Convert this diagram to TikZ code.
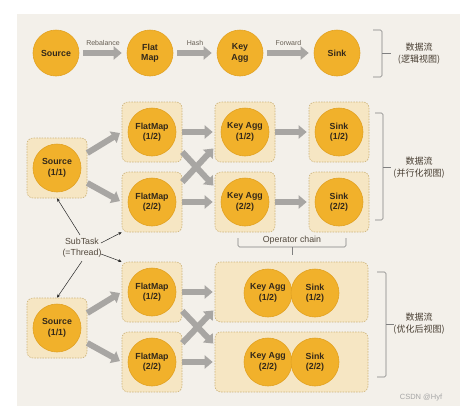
\documentclass[tikz,border=0pt]{standalone}
\usepackage{fontspec}
\setmainfont{Liberation Sans}
\newfontfamily\cjk{Noto Sans CJK SC}
\usetikzlibrary{arrows.meta}
\definecolor{bg}{HTML}{F3F0EA}
\definecolor{boxfill}{HTML}{F6E6C3}
\definecolor{boxline}{HTML}{CDB47A}
\definecolor{gold}{HTML}{F1B12B}
\definecolor{goldline}{HTML}{E2A222}
\definecolor{agray}{HTML}{A8A6A3}
\definecolor{txt}{HTML}{33281A}
\tikzset{
  op/.style={circle, fill=gold, draw=goldline, line width=0.6pt, minimum size=48pt, inner sep=0pt, align=center, font=\fontsize{8.8}{10.5}\selectfont\bfseries, text=txt},
  optop/.style={op, minimum size=46pt},
  slot/.style={draw=boxline, dash pattern=on 1.5pt off 1.2pt, line width=0.6pt, fill=boxfill, rounded corners=6pt, minimum width=60pt, minimum height=60pt, inner sep=0pt},
  wideslot/.style={slot, minimum width=153pt},
  flow/.style={draw=agray, line width=6pt, -{Triangle[width=13pt,length=8pt]}, shorten >=2pt},
  lab/.style={font=\fontsize{7}{8}\selectfont, text=txt!75},
  note/.style={draw=black!85, line width=0.5pt, -{Stealth[length=3.5pt,width=3pt]}},
  brk/.style={draw=black!50, line width=0.6pt, rounded corners=1.5pt},
  plain/.style={font=\fontsize{8.8}{11}\selectfont, text=txt!85, align=center},
  cn/.style={font=\cjk\fontsize{9}{12}\selectfont, text=txt!90, align=center},
}
\begin{document}
\begin{tikzpicture}[x=1pt,y=-1pt]
\useasboundingbox (0,0) rectangle (474,410);
\fill[white] (0,0) rectangle (474,410);
\fill[bg] (17,14) rectangle (460,406);

% ---------- top row (logical view)
\node[optop] (s0) at (56,53) {Source};
\node[optop] (f0) at (150,53) {Flat\\Map};
\node[optop] (k0) at (240,53) {Key\\Agg};
\node[optop] (z0) at (337,53) {Sink};
\draw[flow, shorten <=4pt, shorten >=5pt] (s0) -- node[lab, above=1.5pt] {Rebalance} (f0);
\draw[flow, shorten <=4pt, shorten >=5pt] (f0) -- node[lab, above=1.5pt] {Hash} (k0);
\draw[flow, shorten <=4pt, shorten >=5pt] (k0) -- node[lab, above=1.5pt] {Forward} (z0);
\draw[brk] (373,30) -- (382,30) -- (382,77) -- (373,77);
\draw[brk] (382,53) -- (391,53);
\node[cn] (t0) at (419,54) {数据流\\(逻辑视图)};

% ---------- middle (parallel view)
\node[slot] (ps) at (57,168) {};
\node[slot] (pf1) at (152,132) {};
\node[slot] (pf2) at (152,202) {};
\node[slot] (pk1) at (245,132) {};
\node[slot] (pk2) at (245,202) {};
\node[slot] (pz1) at (339,132) {};
\node[slot] (pz2) at (339,202) {};
\node[op] (cs) at (ps) {Source\\(1/1)};
\node[op] (cf1) at (pf1) {FlatMap\\(1/2)};
\node[op] (cf2) at (pf2) {FlatMap\\(2/2)};
\node[op] (ck1) at (pk1) {Key Agg\\(1/2)};
\node[op] (ck2) at (pk2) {Key Agg\\(2/2)};
\node[op] (cz1) at (pz1) {Sink\\(1/2)};
\node[op] (cz2) at (pz2) {Sink\\(2/2)};
\draw[flow] ([yshift=15pt]ps.east) -- (pf1.west);
\draw[flow] ([yshift=-15pt]ps.east) -- (pf2.west);
\draw[flow] (pf1.east) -- (pk1.west);
\draw[flow] (pf2.east) -- (pk2.west);
\draw[flow] ([yshift=-20pt]pf1.east) -- ([yshift=15pt]pk2.west);
\draw[flow] ([yshift=20pt]pf2.east) -- ([yshift=-15pt]pk1.west);
\draw[flow] (pk1.east) -- (pz1.west);
\draw[flow] (pk2.east) -- (pz2.west);
\draw[brk] (375,113) -- (383,113) -- (383,220) -- (375,220);
\draw[brk] (383,167) -- (391,167);
\node[cn] (t1) at (419,168) {数据流\\(并行化视图)};

% operator chain
\node[plain] (oc) at (292,240) {Operator chain};
\draw[brk] (238,238) -- (238,247) -- (346,247) -- (346,238);
\draw[brk] (292,247) -- (292,255);

% ---------- bottom (optimised view)
\node[slot] (qs) at (57,328) {};
\node[slot] (qf1) at (152,292) {};
\node[slot] (qf2) at (152,362) {};
\node[wideslot] (qb1) at (291.5,292) {};
\node[wideslot] (qb2) at (291.5,362) {};
\node[op] (ds) at (qs) {Source\\(1/1)};
\node[op] (df1) at (qf1) {FlatMap\\(1/2)};
\node[op] (df2) at (qf2) {FlatMap\\(2/2)};
\node[op] (dk1) at (268,293) {Key Agg\\(1/2)};
\node[op] (dz1) at (315,293) {Sink\\(1/2)};
\node[op] (dk2) at (268,362) {Key Agg\\(2/2)};
\node[op] (dz2) at (315,362) {Sink\\(2/2)};
\draw[flow] ([yshift=15pt]qs.east) -- (qf1.west);
\draw[flow] ([yshift=-15pt]qs.east) -- (qf2.west);
\draw[flow] (qf1.east) -- (qb1.west);
\draw[flow] (qf2.east) -- (qb2.west);
\draw[flow] ([yshift=-19pt]qf1.east) -- ([yshift=17pt]qb2.west);
\draw[flow] ([yshift=19pt]qf2.east) -- ([yshift=-17pt]qb1.west);
\draw[brk] (377,272) -- (386,272) -- (386,377) -- (377,377);
\draw[brk] (386,324) -- (394,324);
\node[cn] (t2) at (419,324) {数据流\\(优化后视图)};

% subtask label
\node[plain] (st) at (82,248) {SubTask\\(=Thread)};
\draw[note] ([xshift=-2pt]st.north) -- (ps.south);
\draw[note] ([xshift=-4pt,yshift=5pt]st.east) -- (pf2.south west);
\draw[note] ([xshift=-4pt,yshift=-6pt]st.east) -- (qf1.north west);
\draw[note] (st.south) -- (qs.north);

\node[font=\fontsize{7.5}{9}\selectfont, text=black!35] (wm) at (421,398) {CSDN @Hyf};
\end{tikzpicture}
\end{document}
